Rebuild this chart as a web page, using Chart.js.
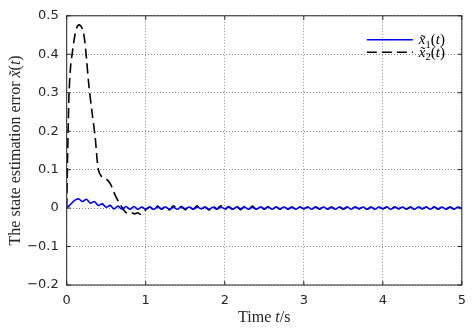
<!DOCTYPE html>
<html lang="en">
<head>
  <meta charset="UTF-8">
  <title>State estimation error</title>
  <script src="https://cdn.jsdelivr.net/npm/chart.js"></script>
  <style>
    body { margin: 0; background: white; }
    canvas { display: block; }
  </style>
</head>
<body>
  <canvas id="errChart" width="474" height="332"></canvas>

  <script>
    // x1 error: time samples (s) and values
    const x1Time = [
      0, 0.05, 0.1, 0.15, 0.2, 0.25, 0.3, 0.35, 0.4, 0.45, 0.5, 0.55, 0.6, 0.65, 0.7, 0.75, 0.8, 0.85, 0.9, 0.95,
      1, 1.05, 1.1, 1.15, 1.2, 1.25, 1.3, 1.35, 1.4, 1.45, 1.5, 1.55, 1.6, 1.65, 1.7, 1.75, 1.8, 1.85, 1.9, 1.95,
      2, 2.05, 2.1, 2.15, 2.2, 2.25, 2.3, 2.35, 2.4, 2.45, 2.5, 2.55, 2.6, 2.65, 2.7, 2.75, 2.8, 2.85, 2.9, 2.95,
      3, 3.05, 3.1, 3.15, 3.2, 3.25, 3.3, 3.35, 3.4, 3.45, 3.5, 3.55, 3.6, 3.65, 3.7, 3.75, 3.8, 3.85, 3.9, 3.95,
      4, 4.05, 4.1, 4.15, 4.2, 4.25, 4.3, 4.35, 4.4, 4.45, 4.5, 4.55, 4.6, 4.65, 4.7, 4.75, 4.8, 4.85, 4.9, 4.95, 5
    ];
    const x1Err = [
      0, 0.010, 0.020, 0.024, 0.017, 0.023, 0.013, 0.017, 0.007, 0.011, 0.002, 0.007, -0.002, 0.005, -0.003, 0.004, -0.003, 0.004, -0.003, 0.003,
      -0.003, 0.003, -0.003, 0.003, -0.002, 0.003, -0.003, 0.002, -0.003, 0.003, -0.002, 0.003, -0.003, 0.003, -0.002, 0.003, -0.003, 0.002, -0.003, 0.003,
      -0.002, 0.003, -0.003, 0.003, -0.002, 0.003, -0.003, 0.002, -0.003, 0.003, -0.002, 0.003, -0.003, 0.003, -0.002, 0.003, -0.003, 0.002, -0.003, 0.003,
      -0.002, 0.003, -0.003, 0.003, -0.002, 0.003, -0.003, 0.002, -0.003, 0.003, -0.002, 0.003, -0.003, 0.003, -0.002, 0.003, -0.003, 0.002, -0.003, 0.003,
      -0.002, 0.003, -0.003, 0.003, -0.002, 0.003, -0.003, 0.002, -0.003, 0.003, -0.002, 0.003, -0.003, 0.003, -0.002, 0.003, -0.003, 0.002, -0.003, 0.003, -0.002
    ];

    // x2 error: denser samples around the initial peak
    const x2Time = [
      0, 0.01, 0.02, 0.03, 0.05, 0.075, 0.1, 0.125, 0.15, 0.175, 0.2, 0.225, 0.25, 0.28, 0.32, 0.36, 0.4, 0.44, 0.48, 0.52,
      0.56, 0.61, 0.66, 0.7, 0.74, 0.78, 0.82, 0.86, 0.9, 0.93, 0.96, 1,
      1.05, 1.1, 1.15, 1.2, 1.25, 1.3, 1.35, 1.4, 1.45, 1.5, 1.55, 1.6, 1.65, 1.7, 1.75, 1.8, 1.85, 1.9, 1.95, 2,
      2.05, 2.1, 2.15, 2.2, 2.25, 2.3, 2.35, 2.4, 2.45, 2.5, 2.55, 2.6, 2.65, 2.7, 2.75, 2.8, 2.85, 2.9, 2.95, 3,
      3.05, 3.1, 3.15, 3.2, 3.25, 3.3, 3.35, 3.4, 3.45, 3.5, 3.55, 3.6, 3.65, 3.7, 3.75, 3.8, 3.85, 3.9, 3.95, 4,
      4.05, 4.1, 4.15, 4.2, 4.25, 4.3, 4.35, 4.4, 4.45, 4.5, 4.55, 4.6, 4.65, 4.7, 4.75, 4.8, 4.85, 4.9, 4.95, 5
    ];
    const x2Err = [
      0, 0.12, 0.22, 0.30, 0.37, 0.41, 0.445, 0.468, 0.476, 0.474, 0.465, 0.44, 0.39, 0.32, 0.25, 0.185, 0.10, 0.082, 0.078, 0.072,
      0.06, 0.035, 0.015, 0.002, -0.010, -0.014, -0.012, -0.015, -0.012, -0.016, -0.012, -0.004,
      0.003, -0.004, 0.005, -0.003, 0.004, -0.005, 0.006, -0.002, 0.004, -0.004, 0.005, -0.003, 0.006, -0.004, 0.003, -0.005, 0.005, -0.002, 0.006, -0.004,
      0.004, -0.003, 0.005, -0.004, 0.004, -0.003, 0.005, -0.003, 0.004, -0.003, 0.004, -0.003, 0.003, -0.003, 0.004, -0.002, 0.003, -0.003, 0.003, -0.002,
      0.003, -0.002, 0.003, -0.003, 0.003, -0.002, 0.003, -0.002, 0.003, -0.003, 0.003, -0.002, 0.003, -0.002, 0.003, -0.003, 0.003, -0.002, 0.003, -0.002,
      0.003, -0.003, 0.003, -0.002, 0.003, -0.002, 0.003, -0.003, 0.003, -0.002, 0.003, -0.002, 0.003, -0.003, 0.003, -0.002, 0.003, -0.002, 0.003, -0.002
    ];

    const seriesSubs = ['1', '2'];
    const xTicks = [0, 1, 2, 3, 4, 5];
    const yTicks = [-0.2, -0.1, 0, 0.1, 0.2, 0.3, 0.4, 0.5];

    const AXIS = '#262626';
    const SERIF = '"Liberation Serif", "Times New Roman", serif';

    const toPoints = (ts, vs) => ts.map((t, i) => ({ x: t, y: vs[i] }));

    // draws a run of text pieces (upright / italic / subscript), with optional tilde accent
    function drawRuns(ctx, runs, x, y, size) {
      const fontOf = r => (r.italic ? 'italic ' : '') + (r.sub ? size * 0.7 : size) + 'px ' + SERIF;
      let total = 0;
      runs.forEach(r => { ctx.font = fontOf(r); total += ctx.measureText(r.t).width; });
      let cx = x - total / 2;
      ctx.textAlign = 'left';
      ctx.textBaseline = 'alphabetic';
      runs.forEach(r => {
        ctx.font = fontOf(r);
        const w = ctx.measureText(r.t).width;
        const dy = r.sub ? size * 0.22 : 0;
        ctx.fillText(r.t, cx, y + dy);
        if (r.tilde) {
          ctx.font = size + 'px ' + SERIF;
          ctx.textAlign = 'center';
          ctx.fillText('\u02dc', cx + w / 2 + size * 0.06, y + size * 0.02);
          ctx.textAlign = 'left';
        }
        cx += w;
      });
    }

    const frameAndLabels = {
      id: 'frameAndLabels',
      afterDraw(chart) {
        const { ctx, chartArea: a, scales } = chart;
        ctx.save();
        // axes box with inward ticks on all sides
        ctx.strokeStyle = AXIS;
        ctx.lineWidth = 1;
        ctx.strokeRect(a.left, a.top, a.right - a.left, a.bottom - a.top);
        ctx.beginPath();
        xTicks.forEach(v => {
          const px = scales.x.getPixelForValue(v);
          ctx.moveTo(px, a.bottom); ctx.lineTo(px, a.bottom - 4);
          ctx.moveTo(px, a.top); ctx.lineTo(px, a.top + 4);
        });
        yTicks.forEach(v => {
          const py = scales.y.getPixelForValue(v);
          ctx.moveTo(a.left, py); ctx.lineTo(a.left + 4, py);
          ctx.moveTo(a.right, py); ctx.lineTo(a.right - 4, py);
        });
        ctx.stroke();

        ctx.fillStyle = AXIS;
        // x axis title
        drawRuns(ctx, [{ t: 'Time ' }, { t: 't', italic: true }, { t: '/s' }],
          (a.left + a.right) / 2, 322, 16);
        // y axis title
        ctx.save();
        ctx.translate(20, (a.top + a.bottom) / 2);
        ctx.rotate(-Math.PI / 2);
        drawRuns(ctx, [{ t: 'The state estimation error ' }, { t: 'x', italic: true, tilde: true },
          { t: '(' }, { t: 't', italic: true }, { t: ')' }], 0, 0, 16);
        ctx.restore();

        // legend
        chart.data.datasets.forEach((ds, i) => {
          const ly = a.top + 24 + i * 12.5;
          ctx.save();
          ctx.strokeStyle = ds.borderColor;
          ctx.lineWidth = ds.borderWidth;
          ctx.setLineDash(ds.borderDash || []);
          ctx.beginPath();
          ctx.moveTo(a.right - 95, ly);
          ctx.lineTo(a.right - 49, ly);
          ctx.stroke();
          ctx.restore();
          ctx.fillStyle = 'black';
          drawRuns(ctx, [{ t: 'x', italic: true, tilde: true }, { t: seriesSubs[i], sub: true },
            { t: '(' }, { t: 't', italic: true }, { t: ')' }], a.right - 30, ly + 4.5, 15);
        });
        ctx.restore();
      }
    };

    const fmt = v => {
      const r = Math.round(v * 10) / 10;
      return r === 0 ? '0' : r.toFixed(1).replace('-', '\u2212');
    };

    new Chart(document.getElementById('errChart'), {
      type: 'line',
      data: {
        datasets: [
          { label: 'x1', data: toPoints(x1Time, x1Err), borderColor: '#0000ff', borderWidth: 1.6,
            pointRadius: 0, tension: 0.3, fill: false },
          { label: 'x2', data: toPoints(x2Time, x2Err), borderColor: '#000000', borderWidth: 1.6,
            borderDash: [10, 5], pointRadius: 0, tension: 0.3, fill: false }
        ]
      },
      options: {
        responsive: false,
        animation: false,
        layout: { padding: { left: 0, top: 9, right: 7.3, bottom: 0 } },
        plugins: { legend: { display: false }, tooltip: { enabled: false } },
        scales: {
          x: {
            type: 'linear', min: 0, max: 5,
            afterBuildTicks: s => { s.ticks = xTicks.map(v => ({ value: v })); },
            afterFit: s => { s.height = 47; },
            ticks: { color: AXIS, padding: 8, font: { family: '"DejaVu Sans", sans-serif', size: 13 },
              callback: v => String(v) },
            grid: { color: 'rgba(0,0,0,0.45)', drawTicks: false },
            border: { display: false, dash: [1, 2] }
          },
          y: {
            min: -0.2, max: 0.5,
            afterBuildTicks: s => { s.ticks = yTicks.map(v => ({ value: v })); },
            afterFit: s => { s.width = 66.7; },
            ticks: { color: AXIS, padding: 8, font: { family: '"DejaVu Sans", sans-serif', size: 13 },
              callback: v => fmt(v) },
            grid: { color: 'rgba(0,0,0,0.45)', drawTicks: false },
            border: { display: false, dash: [1, 2] }
          }
        }
      },
      plugins: [frameAndLabels]
    });
  </script>
</body>
</html>
